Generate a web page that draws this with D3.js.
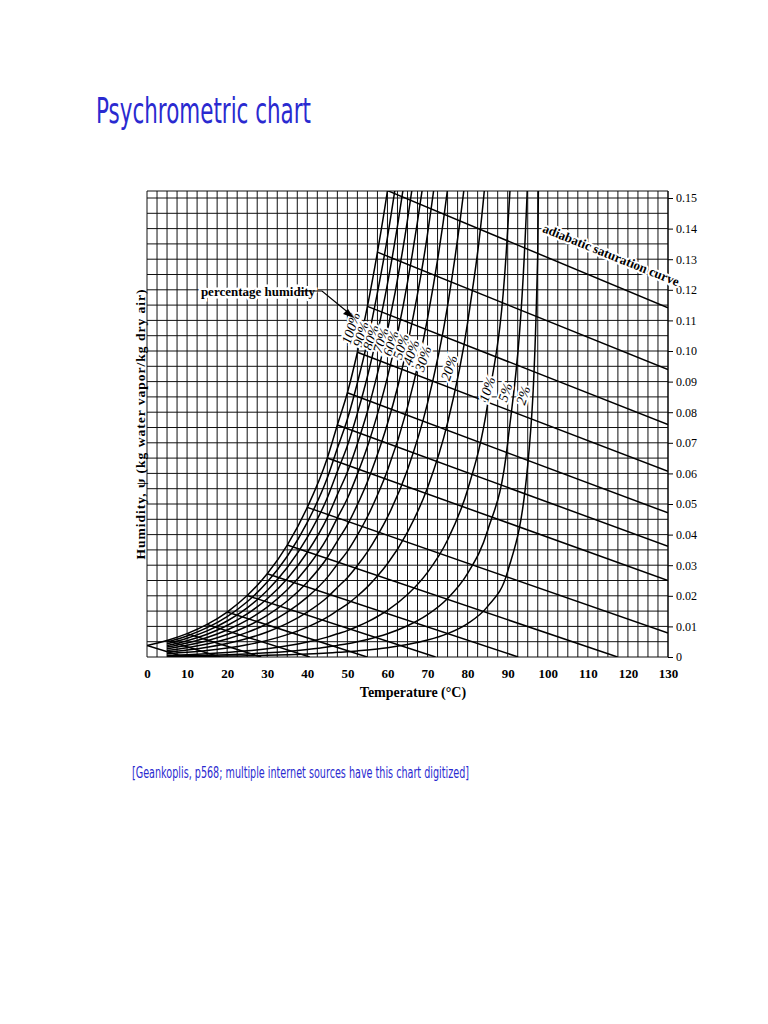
<!DOCTYPE html>
<html><head><meta charset="utf-8">
<script src="https://cdn.jsdelivr.net/npm/d3@7"></script>
<style>body{margin:0;background:#fff}svg{display:block}</style>
</head><body>
<svg id="c" width="768" height="1024"></svg>
<script>
// Saturation humidity (100% curve), kg water / kg dry air
const satT = [0, 5, 10, 15, 20, 25, 30, 35, 40, 45, 47.5, 50, 52.5, 55, 57.5, 60, 65, 70, 75, 80, 85, 90, 95, 97.5, 99];
const satH = [0.00377, 0.0054, 0.00763, 0.01065, 0.0147, 0.02008, 0.0272, 0.03658, 0.04889, 0.06505, 0.0758, 0.08634, 0.0996, 0.1146, 0.1323, 0.1524, 0.2041, 0.2766, 0.3825, 0.5465, 0.827, 1.399, 3.135, 6.6, 16.3];
const percents = [100, 90, 80, 70, 60, 50, 40, 30, 20, 10, 5, 2];
const percentLabels = ["100%", "90%", "80%", "70%", "60%", "50%", "40%", "30%", "20%", "10%", "5%", "2%"];
const labelT = [52, 54.5, 57, 59.5, 62, 64.5, 67, 70, 76.5, 86, 90.5, 95];
const labelH = [0.107, 0.105, 0.104, 0.103, 0.102, 0.101, 0.099, 0.097, 0.094, 0.087, 0.086, 0.085];
// Adiabatic saturation lines: start (Ts, Hs) -> end (Te, He)
const adTs = [0, 5, 10, 15, 20, 25, 30, 35, 40, 45, 47.5, 50, 52.5, 55, 57.5, 60];
const adHs = [0.00377, 0.0054, 0.00763, 0.01065, 0.0147, 0.02008, 0.0272, 0.03658, 0.04889, 0.06505, 0.0758, 0.08634, 0.0996, 0.1146, 0.1323, 0.1524];
const adTe = [9.3, 18.2, 28.5, 40.6, 54.9, 72.0, 92.6, 117.4, 130, 130, 130, 130, 130, 130, 130, 130];
const adHe = [0, 0, 0, 0, 0, 0, 0, 0, 0.00785, 0.02502, 0.0362, 0.0471, 0.0607, 0.076, 0.0939, 0.1141];
const xTicks = [0, 10, 20, 30, 40, 50, 60, 70, 80, 90, 100, 110, 120, 130];
const yTicks = [0, 0.01, 0.02, 0.03, 0.04, 0.05, 0.06, 0.07, 0.08, 0.09, 0.10, 0.11, 0.12, 0.13, 0.14, 0.15];

const svg = d3.select("#c");
const L = 147, R = 668, T = 191, B = 657;
const x = d3.scaleLinear().domain([0, 130]).range([L, R]);
const y = d3.scaleLinear().domain([0, 0.15]).range([B, 198]);

svg.append("text").attr("x", 96).attr("y", 123).attr("fill", "#2a2ad0")
  .attr("font-family", "DejaVu Sans, sans-serif").attr("font-size", 35)
  .attr("textLength", 215).attr("lengthAdjust", "spacingAndGlyphs")
  .text("Psychrometric chart");
svg.append("text").attr("x", 132).attr("y", 778).attr("fill", "#2a2ad0")
  .attr("font-family", "DejaVu Sans, sans-serif").attr("font-size", 16)
  .attr("textLength", 337).attr("lengthAdjust", "spacingAndGlyphs")
  .text("[Geankoplis, p568; multiple internet sources have this chart digitized]");

svg.append("clipPath").attr("id", "pc").append("rect").attr("x", L).attr("y", T).attr("width", R - L).attr("height", B - T);
const g = svg.append("g");
const grid = g.append("g").attr("stroke", "#111").attr("stroke-width", 1);
d3.range(0, 130.01, 2.5).forEach(t => grid.append("line").attr("x1", x(t)).attr("x2", x(t)).attr("y1", T).attr("y2", B));
d3.range(0, 0.1526, 0.005).forEach(h => grid.append("line").attr("x1", L).attr("x2", R).attr("y1", y(h)).attr("y2", y(h)));
grid.append("line").attr("x1", L).attr("x2", R).attr("y1", T).attr("y2", T);

const curves = g.append("g").attr("clip-path", "url(#pc)").attr("fill", "none").attr("stroke", "#000").attr("stroke-width", 1.5);
const line = d3.line().x(d => x(d[0])).y(d => y(d[1])).curve(d3.curveMonotoneX);
percents.forEach(p => {
  const pts = satT.map((t, i) => [t, satH[i] * p / 100]).filter(d => p === 100 || d[0] >= 5);
  curves.append("path").attr("d", line(pts));
});
adTs.forEach((t, i) => {
  curves.append("path").attr("d", d3.line().x(d => x(d[0])).y(d => y(d[1]))([[t, adHs[i]], [adTe[i], adHe[i]]]));
});

// Axes
const fs = "Liberation Serif, DejaVu Serif, serif";
const ax = svg.append("g").attr("transform", `translate(0,${B})`).call(d3.axisBottom(x).tickValues(xTicks).tickSize(0).tickPadding(12).tickFormat(d3.format("d")));
ax.select(".domain").remove();
ax.selectAll("text").attr("font-family", fs).attr("font-size", 13).attr("font-weight", "bold").attr("fill", "#000");
const ay = svg.append("g").attr("transform", `translate(${R},0)`).call(d3.axisRight(y).tickValues(yTicks).tickSize(5).tickPadding(3).tickFormat(d => d === 0 ? "0" : d3.format(".2f")(d)));
ay.select(".domain").attr("d", `M0,${T}V${B}`);
ay.selectAll("line").attr("stroke", "#000");
ay.selectAll("text").attr("font-family", fs).attr("font-size", 12).attr("fill", "#000");

svg.append("text").attr("x", 413).attr("y", 697).attr("text-anchor", "middle").attr("font-family", fs)
  .attr("font-size", 14).attr("font-weight", "bold").text("Temperature (°C)");
svg.append("text").attr("transform", "translate(145,424) rotate(-90)").attr("text-anchor", "middle")
  .attr("font-family", fs).attr("font-size", 13.5).attr("font-weight", "bold").attr("letter-spacing", 1)
  .text("Humidity, ψ (kg water vapor/kg dry air)");

// percentage labels
percents.forEach((p, i) => {
  svg.append("text").attr("transform", `translate(${x(labelT[i])},${y(labelH[i])}) rotate(-72)`)
    .attr("text-anchor", "middle").attr("font-family", fs).attr("font-style", "italic").attr("font-size", 14)
    .attr("stroke", "#fff").attr("stroke-width", 4).attr("paint-order", "stroke").attr("fill", "#000")
    .text(percentLabels[i]);
});
svg.append("text").attr("x", 258).attr("y", 296).attr("text-anchor", "middle").attr("font-family", fs)
  .attr("font-size", 13).attr("font-weight", "bold").attr("stroke", "#fff").attr("stroke-width", 5).attr("paint-order", "stroke")
  .text("percentage humidity");
svg.append("path").attr("d", `M300,291 L322,291 L350,314`).attr("fill", "none").attr("stroke", "#000").attr("stroke-width", 1.2);
svg.append("path").attr("d", `M354,318 L343,314 L348,309 Z`).attr("fill", "#000");
svg.append("text").attr("transform", `translate(${x(98.5)},${y(0.139)}) rotate(22)`).attr("font-family", fs)
  .attr("font-size", 13).attr("font-weight", "bold").attr("stroke", "#fff").attr("stroke-width", 4).attr("paint-order", "stroke")
  .text("adiabatic saturation curve");
</script>
</body></html>
